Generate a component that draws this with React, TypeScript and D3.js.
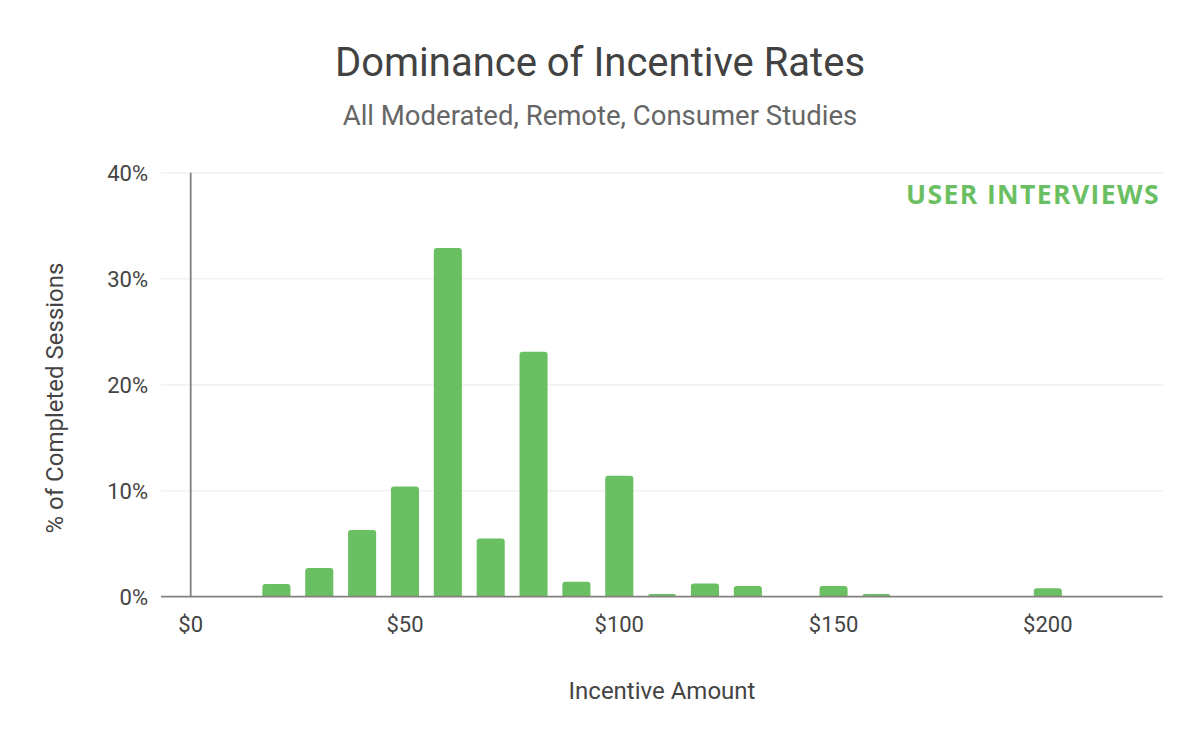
import { useEffect, useRef } from 'react';
import * as d3 from 'd3';

// incentive amount ($) and % of completed sessions
const amounts = [20, 30, 40, 50, 60, 70, 80, 90, 100, 110, 120, 130, 140, 150, 160, 170, 180, 190, 200, 210, 220];
const shares = [1.2, 2.7, 6.3, 10.4, 32.9, 5.5, 23.1, 1.4, 11.4, 0.25, 1.25, 1.0, 0.04, 1.0, 0.25, 0.04, 0.04, 0.04, 0.8, 0.04, 0.04];
const xTicks = [0, 50, 100, 150, 200];
const yTicks = [0, 10, 20, 30, 40];

const WIDTH = 1200;
const HEIGHT = 742;
const FONT = 'Roboto, "Noto Sans", sans-serif';
const GREEN = '#6bbf63';

const App = () => {
  const svgRef = useRef<SVGSVGElement | null>(null);

  useEffect(() => {
    const svg = d3.select(svgRef.current);
    svg.selectAll('*').remove();

    const x = d3.scaleLinear().domain([0, 226.8]).range([190.7, 1162.7]);
    const y = d3.scaleLinear().domain([0, 40]).range([596.7, 172.7]);
    const barW = x(6.55) - x(0);

    // gridlines
    svg.append('g')
      .selectAll('line')
      .data(yTicks.filter(t => t > 0))
      .join('line')
      .attr('x1', 161).attr('x2', 1163)
      .attr('y1', d => y(d)).attr('y2', d => y(d))
      .attr('stroke', '#f1f1f1').attr('stroke-width', 1.5);

    // y tick labels
    svg.append('g')
      .selectAll('text')
      .data(yTicks)
      .join('text')
      .attr('x', 148).attr('y', d => y(d))
      .attr('dy', '0.36em')
      .attr('text-anchor', 'end')
      .attr('font-family', FONT).attr('font-size', 22).attr('fill', '#444')
      .text(d => `${d}%`);

    // bars with rounded tops
    const r = 3;
    svg.append('g')
      .selectAll('path')
      .data(amounts.map((a, i) => ({ a, v: shares[i] })))
      .join('path')
      .attr('fill', GREEN)
      .attr('d', d => {
        const x0 = x(d.a) - barW / 2;
        const x1 = x0 + barW;
        const y0 = y(0);
        const y1 = y(d.v);
        const rr = Math.min(r, (y0 - y1));
        return `M${x0},${y0}V${y1 + rr}Q${x0},${y1} ${x0 + rr},${y1}H${x1 - rr}Q${x1},${y1} ${x1},${y1 + rr}V${y0}Z`;
      });

    // axes lines
    svg.append('line')
      .attr('x1', 161).attr('x2', 1162.7)
      .attr('y1', y(0)).attr('y2', y(0))
      .attr('stroke', '#858080').attr('stroke-width', 1.8);
    svg.append('line')
      .attr('x1', x(0)).attr('x2', x(0))
      .attr('y1', y(40)).attr('y2', y(0))
      .attr('stroke', '#858080').attr('stroke-width', 1.8);

    // x tick labels
    svg.append('g')
      .selectAll('text')
      .data(xTicks)
      .join('text')
      .attr('x', d => x(d)).attr('y', 632)
      .attr('text-anchor', 'middle')
      .attr('font-family', FONT).attr('font-size', 22).attr('fill', '#444')
      .text(d => `$${d}`);

    // titles
    svg.append('text')
      .attr('x', 600).attr('y', 76)
      .attr('text-anchor', 'middle')
      .attr('font-family', FONT).attr('font-size', 40).attr('fill', '#424242')
      .text('Dominance of Incentive Rates');
    svg.append('text')
      .attr('x', 600).attr('y', 125)
      .attr('text-anchor', 'middle')
      .attr('font-family', FONT).attr('font-size', 27.5).attr('fill', '#666')
      .text('All Moderated, Remote, Consumer Studies');

    // axis titles
    svg.append('text')
      .attr('x', 662).attr('y', 699)
      .attr('text-anchor', 'middle')
      .attr('font-family', FONT).attr('font-size', 24).attr('fill', '#444')
      .text('Incentive Amount');
    svg.append('text')
      .attr('transform', 'translate(63,398) rotate(-90)')
      .attr('text-anchor', 'middle')
      .attr('font-family', FONT).attr('font-size', 24).attr('fill', '#444')
      .text('% of Completed Sessions');

    // watermark
    svg.append('text')
      .attr('x', 1160).attr('y', 204)
      .attr('text-anchor', 'end')
      .attr('font-family', '"Open Sans", Lato, sans-serif')
      .attr('font-weight', 700).attr('font-size', 26.5)
      .attr('letter-spacing', 1.4).attr('fill', GREEN)
      .text('USER INTERVIEWS');
  }, []);

  return (
    <svg ref={svgRef} width={WIDTH} height={HEIGHT}
      style={{ position: 'absolute', left: 0, top: 0, background: '#fff' }} />
  );
};

export default App;
